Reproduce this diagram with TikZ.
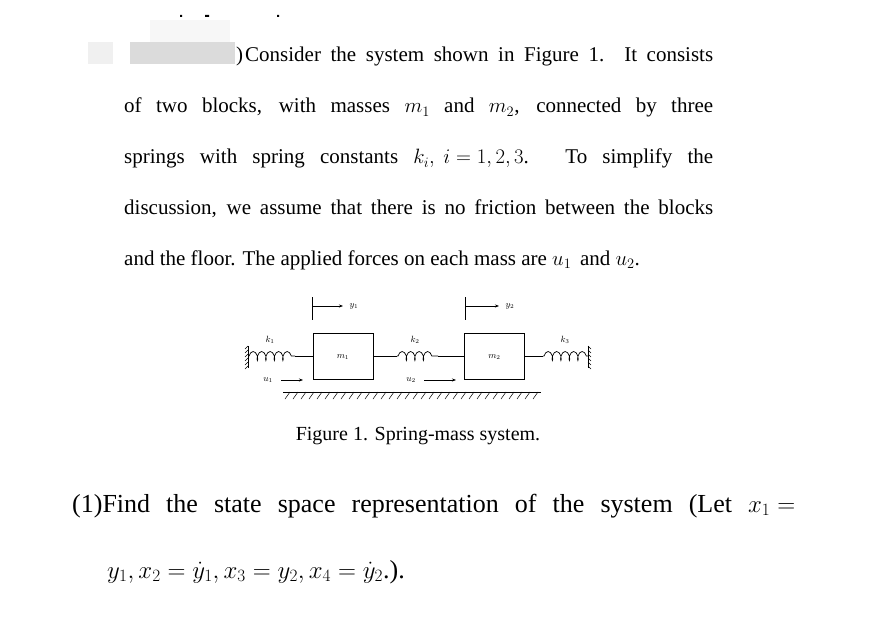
\documentclass[tikz,border=0pt]{standalone}
\usepackage{fontspec}
\setmainfont{Liberation Serif}
\usetikzlibrary{decorations.pathmorphing,patterns,arrows.meta}
\newcommand{\mm}[1]{\mbox{$#1$}}
\begin{document}
\begin{tikzpicture}[x=1pt,y=-1pt,
  txt/.style={anchor=base west,inner sep=0pt,font=\fontsize{21}{24}\selectfont},
  big/.style={anchor=base west,inner sep=0pt,font=\fontsize{26}{30}\selectfont},
  lab/.style={inner sep=0pt,font=\fontsize{9}{10}\selectfont},
  spring/.style={decorate,decoration={coil,aspect=0.45,segment length=8.5pt,amplitude=4.5pt,pre length=1pt,post length=1pt},line width=0.7pt},
  blk/.style={draw,line width=0.8pt,minimum width=60pt,minimum height=46pt,inner sep=0pt},
  arr/.style={-{Stealth[length=4pt]},line width=0.6pt}]
\useasboundingbox (0,0) rectangle (879,618);
% blurred header
\fill[gray!12] (88,42) rectangle (113,64);
\fill[gray!28] (130,42) rectangle (235,64);
\fill[gray!6] (150,20) rectangle (230,42);
\fill[black] (180,15) rectangle (182,17) (205,15) rectangle (209,17) (277,15) rectangle (279,17);
\node[txt] (l1) at (245,62) {\makebox[468pt][s]{Consider the system shown in Figure 1. It consists}};
\node[txt] at (236,62) {)};
\node[txt] (l2) at (124,113) {\makebox[589pt][s]{of two blocks, with masses \mm{m_1} and \mm{m_2}, connected by three}};
\node[txt] (l3) at (124,164) {\makebox[589pt][s]{springs with spring constants \mm{k_i,\ i=1,2,3}. To simplify the}};
\node[txt] (l4) at (124,214) {\makebox[589pt][s]{discussion, we assume that there is no friction between the blocks}};
\node[txt] (l5) at (124,265) {and the floor. The applied forces on each mass are \mm{u_1}\, and \mm{u_2}.};
% figure
\node[blk] (m1) at (343,356) {};
\node[lab] at (343,357) {$m_1$};
\node[blk] (m2) at (494.5,356) {};
\node[lab] at (494.5,357) {$m_2$};
\coordinate (wl) at (248,356);
\coordinate (wr) at (588,356);
\draw[line width=0.8pt] (248,346) -- (248,368);
\foreach \yy in {346,350,...,366} \draw[line width=0.5pt] (248,\yy) -- (245,\yy+3);
\draw[line width=0.8pt] (588,346) -- (588,368);
\foreach \yy in {346,350,...,366} \draw[line width=0.5pt] (588,\yy) -- (591,\yy+3);
\draw[spring] (wl) -- (295,356);
\draw[line width=0.7pt] (295,356) -- (m1.west);
\draw[line width=0.7pt] (m1.east) -- (397,356);
\draw[spring] (397,356) -- (438,356);
\draw[line width=0.7pt] (438,356) -- (m2.west);
\draw[line width=0.7pt] (m2.east) -- (543,356);
\draw[spring] (543,356) -- (wr);
\node[lab] at (270,340) {$k_1$};
\node[lab] at (415,340) {$k_2$};
\node[lab] at (565,340) {$k_3$};
% ground
\draw[line width=0.8pt] (283,392) -- (541,392);
\foreach \xx in {290,298,...,538} \draw[line width=0.5pt] (\xx,392) -- (\xx-5,399);
% displacement markers
\draw[line width=0.6pt] (312,297) -- (312,320);
\draw[arr] (312,306) -- (343,306);
\node[lab] at (354,306) {$y_1$};
\draw[line width=0.6pt] (465,297) -- (465,320);
\draw[arr] (465,306) -- (499,306);
\node[lab] at (510,306) {$y_2$};
\node[lab] at (268,380) {$u_1$};
\draw[arr] (281,380) -- (303,380);
\node[lab] at (411,380) {$u_2$};
\draw[arr] (424,380) -- (456,380);
\node[inner sep=0pt,font=\fontsize{20}{22}\selectfont] (cap) at (418,436) {Figure 1. Spring-mass system.};
\node[big] (b1) at (72,512) {\makebox[723pt][s]{(1)Find the state space representation of the system (Let \mm{x_1=}}};
\node[big] (b2) at (107,578) {$y_1,x_2=\dot y_1,x_3=y_2,x_4=\dot y_2$.).};
\end{tikzpicture}
\end{document}
